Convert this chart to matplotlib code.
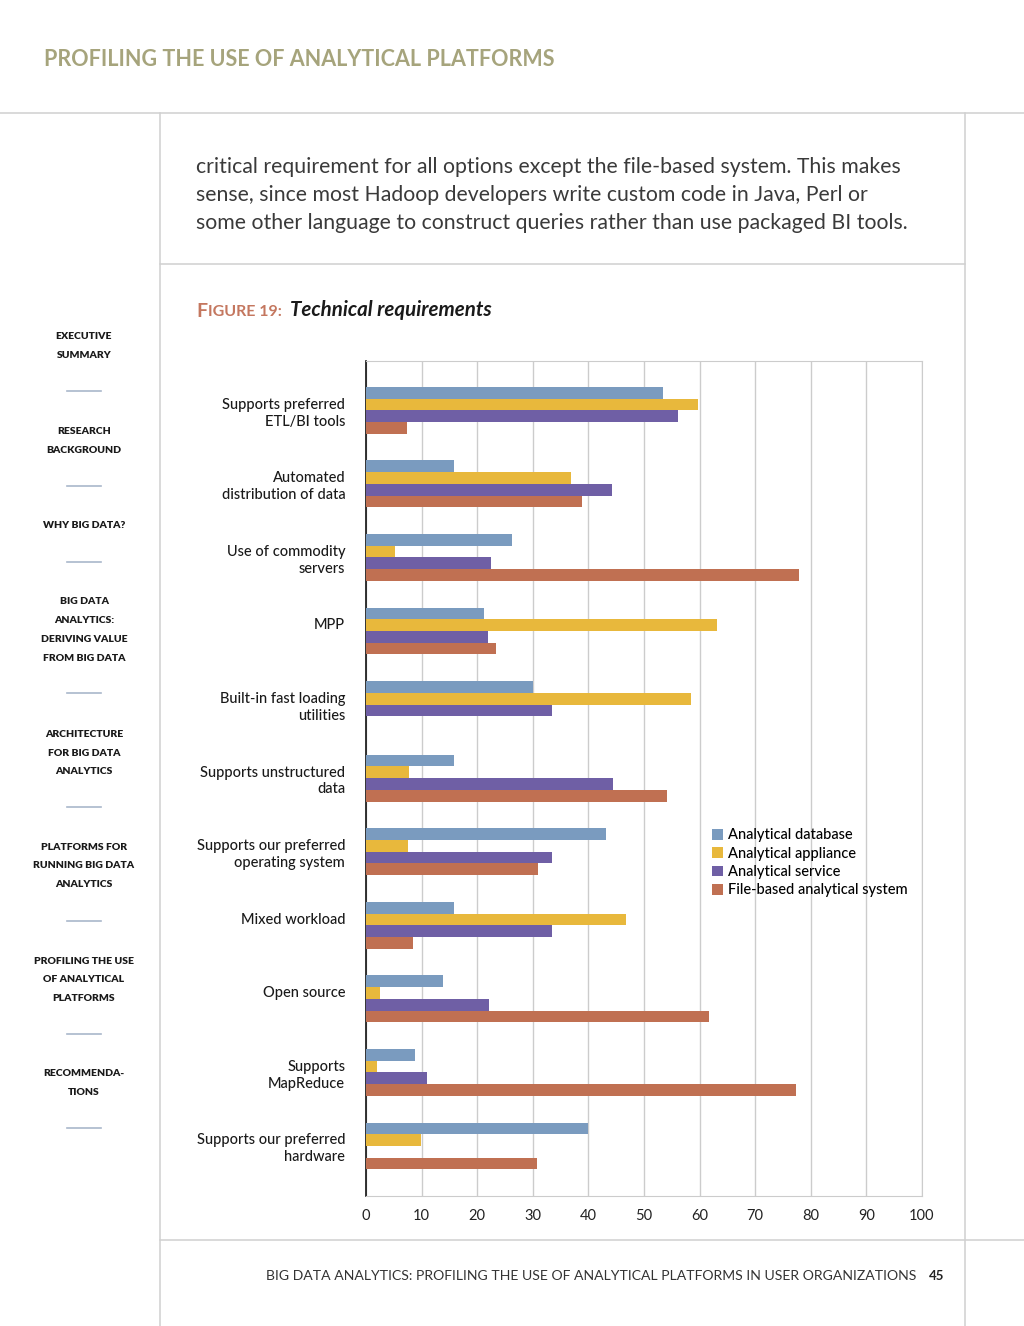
import numpy as np
import matplotlib
matplotlib.use('Agg')
from matplotlib import pyplot as plt
from matplotlib.lines import Line2D

# data (percent of respondents)
categories = ['Supports preferred\nETL/BI tools', 'Automated\ndistribution of data',
              'Use of commodity\nservers', 'MPP', 'Built-in fast loading\nutilities',
              'Supports unstructured\ndata', 'Supports our preferred\noperating system',
              'Mixed workload', 'Open source', 'Supports\nMapReduce',
              'Supports our preferred\nhardware']
series_names = ['Analytical database', 'Analytical appliance', 'Analytical service',
                'File-based analytical system']
analytical_database = [53.5, 15.9, 26.2, 21.3, 30.0, 15.9, 43.1, 15.9, 13.8, 8.9, 39.9]
analytical_appliance = [59.8, 36.9, 5.2, 63.1, 58.4, 7.7, 7.5, 46.7, 2.6, 2.0, 9.9]
analytical_service = [56.1, 44.3, 22.4, 21.9, 33.4, 44.4, 33.4, 33.4, 22.1, 11.0, 0]
file_based = [7.3, 38.9, 77.9, 23.3, 0, 54.1, 30.9, 8.4, 61.7, 77.4, 30.8]
x_ticks = [0, 10, 20, 30, 40, 50, 60, 70, 80, 90, 100]

sidebar_items = ['EXECUTIVE\nSUMMARY', 'RESEARCH\nBACKGROUND', 'WHY BIG DATA?',
                 'BIG DATA\nANALYTICS:\nDERIVING VALUE\nFROM BIG DATA',
                 'ARCHITECTURE\nFOR BIG DATA\nANALYTICS',
                 'PLATFORMS FOR\nRUNNING BIG DATA\nANALYTICS',
                 'PROFILING THE USE\nOF ANALYTICAL\nPLATFORMS', 'RECOMMENDA-\nTIONS']

colors = ['#7a9bbf', '#e8b83c', '#6f5fa5', '#c07052']
W, H = 1024, 1326


def px(x, y):
    return x / W, 1 - y / H


fig = plt.figure(figsize=(W / 100, H / 100), dpi=100)
fig.patch.set_facecolor('white')

# page rules
grey = '#d0d0d0'
for (x0, y0, x1, y1) in [(0, 113, 1024, 113), (160, 113, 160, 1326), (965, 113, 965, 1326),
                         (160, 264, 965, 264), (160, 1240, 1024, 1240)]:
    a, b = px(x0, y0)
    c, d = px(x1, y1)
    fig.add_artist(Line2D([a, c], [b, d], color=grey, lw=1.1))

# header
fig.text(*px(44, 60), 'PROFILING THE USE OF ANALYTICAL PLATFORMS', family='Lato',
         weight='bold', fontsize=15.5, color='#a6a47c', va='center')

body = ['critical requirement for all options except the file-based system. This makes',
        'sense, since most Hadoop developers write custom code in Java, Perl or',
        'some other language to construct queries rather than use packaged BI tools.']
for i, line in enumerate(body):
    fig.text(*px(196, 167 + 28 * i), line, family='Lato', fontsize=15.35,
             color='#3a3a3a', va='center')

# figure caption
fig.text(*px(196, 311), 'F', family='Lato', weight='bold', fontsize=14,
         color='#c4775f', va='center')
fig.text(*px(208, 312), 'IGURE 19:', family='Lato', weight='bold', fontsize=11.5,
         color='#c4775f', va='center')
fig.text(*px(290, 310), 'Technical requirements', family='Lato', weight='bold',
         style='italic', fontsize=14.8, color='#1a1a1a', va='center')

# sidebar
side_y = [346, 441, 526, 630, 753, 866, 980, 1083]
sep_y = [391, 486, 562, 693, 807, 921, 1034, 1128]
for txt, y in zip(sidebar_items, side_y):
    fig.text(*px(84, y), txt, family='Lato', weight='heavy', fontsize=7.5,
             color='#1a1a1a', ha='center', va='center', linespacing=2.4)
for y in sep_y:
    a, b = px(67, y)
    c, _ = px(101, y)
    fig.add_artist(Line2D([a, c], [b, b], color='#a9b7cb', lw=1.2))

# footer
fig.text(*px(266, 1276), 'BIG DATA ANALYTICS: PROFILING THE USE OF ANALYTICAL PLATFORMS IN USER ORGANIZATIONS',
         family='Lato', fontsize=10.05, color='#333333', va='center')
fig.text(*px(929, 1276), '45', family='Lato', weight='bold', fontsize=9.5,
         color='#222222', va='center')

# chart
l, t = px(366, 361)
r, b = px(922, 1196)
ax = fig.add_axes([l, b, r - l, t - b])

vals = [analytical_database, analytical_appliance, analytical_service, file_based]
y = np.arange(len(categories))
h = 0.159
for j, (v, name) in enumerate(zip(vals, series_names)):
    ax.barh(y + (j - 1.5) * h, v, height=h, color=colors[j], label=name, zorder=3)

# one-line labels sit on the first line of a two-line slot, as in the original
ylabels = [c if '\n' in c else c + '\n ' for c in categories]

ax.set_xlim(0, 100)
ax.set_ylim(10.68, -0.67)
ax.set_xticks(x_ticks)
ax.set_xticklabels([str(t) for t in x_ticks], family='Lato', fontsize=10.5, color='#222222')
ax.set_yticks(y)
ax.set_yticklabels(ylabels, family='Lato', weight='medium', fontsize=10.5,
                   color='#1a1a1a', linespacing=1.25)
ax.tick_params(axis='both', length=0)
ax.tick_params(axis='y', pad=15)
ax.tick_params(axis='x', pad=9)
ax.grid(axis='x', color='#cccccc', lw=1, zorder=0)
for s in ['top', 'right', 'bottom']:
    ax.spines[s].set_color('#cccccc')
ax.spines['left'].set_color('#111111')
ax.spines['left'].set_linewidth(1.2)

leg = ax.legend(loc='upper left', bbox_to_anchor=px(705, 821), bbox_transform=fig.transFigure,
                frameon=False, handlelength=0.75, handleheight=0.75, handletextpad=0.3,
                labelspacing=0.3, borderpad=0,
                prop={'family': 'Lato', 'weight': 'medium', 'size': 10.5})

fig.savefig('out.png', dpi=100)
